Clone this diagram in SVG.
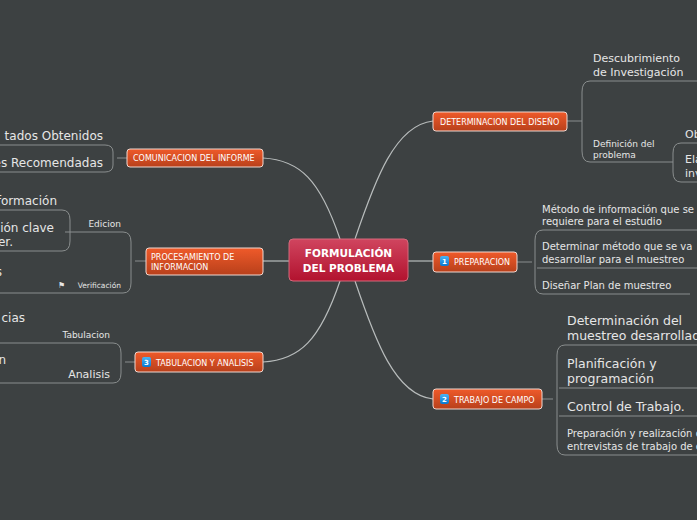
<svg xmlns="http://www.w3.org/2000/svg" width="697" height="520" viewBox="0 0 697 520">
<defs>
<linearGradient id="og" x1="0" y1="0" x2="0" y2="1"><stop offset="0" stop-color="#ef5a2a"/><stop offset="1" stop-color="#b8401b"/></linearGradient>
<linearGradient id="cg" x1="0" y1="0" x2="0" y2="1"><stop offset="0" stop-color="#d0455f"/><stop offset="1" stop-color="#b2122e"/></linearGradient>
<linearGradient id="bg" x1="0" y1="0" x2="0" y2="1"><stop offset="0" stop-color="#4ab4f5"/><stop offset="1" stop-color="#0a78d0"/></linearGradient>
<style>
.n{fill:url(#og);stroke:#f0d8d0;stroke-width:1}
.nt{font-family:"DejaVu Sans",sans-serif;font-size:8px;fill:#fff}
.t{font-family:"DejaVu Sans",sans-serif;fill:#e6e6e6}
.c{fill:none;stroke:#b8bcbc;stroke-width:1.2}
.l{fill:none;stroke:#8a8e8e;stroke-width:1}
.bd{fill:url(#bg)}
.bn{font-family:"DejaVu Sans",sans-serif;font-size:7px;fill:#fff;font-weight:bold}
</style>
</defs>
<rect width="697" height="520" fill="#3d4142"/>
<g id="connectors">
<path class="c" d="M355 239 C375 180 395 125 433 121"/>
<path class="c" d="M408 261 L433 261"/>
<path class="c" d="M355 281 C375 340 395 395 433 399"/>
<path class="c" d="M340 239 C320 180 300 160 263 158"/>
<path class="c" d="M289 261 L263 261"/>
<path class="c" d="M340 281 C320 340 300 360 263 362"/>
<path class="l" d="M567 121 L577 121 M590 81 L697 81 M590 81 Q582 81 582 92 L582 151 Q582 162 590 162 L660 162 M582 121 L577 121"/>
<path class="l" d="M660 162 L673 162 M681 143 Q673 143 673 153 L673 172 Q673 182 681 182 L697 182 M681 143 L697 143"/>
<path class="l" d="M517 262 L532 262 M543 230 Q535 230 535 240 L535 284 Q535 294 543 294 L690 294 M543 230 L697 230 M537 268 L697 268"/>
<path class="l" d="M542 399 L553 399 M565 345 Q557 345 557 355 L557 445 Q557 455 565 455 L697 455 M565 345 L697 345 M559 388 L697 388 M559 416 L697 416"/>
<path class="l" d="M127 158 L117 158 M0 145 L105 145 Q113 145 113 152 L113 165 Q113 172 105 172 L0 172"/>
<path class="l" d="M146 261 L135 261 M72 232 L123 232 Q131 232 131 242 L131 283 Q131 293 123 293 L0 293"/>
<path class="l" d="M72 232 L65 232 M0 210 L62 210 Q70 210 70 220 L70 241 Q70 251 62 251 L0 251"/>
<path class="l" d="M135 362 L125 362 M0 343 L113 343 Q121 343 121 353 L121 373 Q121 383 113 383 L0 383"/>
</g>
<g id="central"><rect x="289" y="239" width="119" height="42" rx="4" fill="url(#cg)" stroke="#d56a7c"/>
<text x="348.5" y="257" text-anchor="middle" font-family="DejaVu Sans,sans-serif" font-size="10.5" font-weight="bold" fill="#fff">FORMULACIÓN</text>
<text x="348.5" y="272" text-anchor="middle" font-family="DejaVu Sans,sans-serif" font-size="10.5" font-weight="bold" fill="#fff">DEL PROBLEMA</text></g>
<g id="diseno"><rect class="n" x="433" y="112" width="134" height="19" rx="3"/><text class="nt" x="440" y="124.5">DETERMINACION DEL DISEÑO</text></g>
<g id="preparacion"><rect class="n" x="433" y="252" width="84" height="20" rx="3"/><rect class="bd" x="440" y="256" width="9" height="10" rx="2"/><text class="bn" x="444.5" y="264" text-anchor="middle">1</text><text class="nt" x="454" y="265">PREPARACION</text></g>
<g id="campo"><rect class="n" x="433" y="389" width="109" height="20" rx="3"/><rect class="bd" x="440" y="394" width="9" height="10" rx="2"/><text class="bn" x="444.5" y="402" text-anchor="middle">2</text><text class="nt" x="454" y="403">TRABAJO DE CAMPO</text></g>
<g id="comunicacion"><rect class="n" x="127" y="149" width="136" height="18" rx="3"/><text class="nt" x="133" y="161">COMUNICACION DEL INFORME</text></g>
<g id="procesamiento"><rect class="n" x="146" y="248" width="117" height="27" rx="3"/><text class="nt" x="151" y="260">PROCESAMIENTO DE</text><text class="nt" x="151" y="270">INFORMACION</text></g>
<g id="tabulacion"><rect class="n" x="135" y="352" width="128" height="20" rx="3"/><rect class="bd" x="142" y="357" width="9" height="10" rx="2"/><text class="bn" x="146.5" y="365" text-anchor="middle">3</text><text class="nt" x="156" y="366">TABULACION Y ANALISIS</text></g>
<g id="labels">
<text class="t" font-size="11" x="593" y="62">Descubrimiento</text>
<text class="t" font-size="11" x="593" y="76">de Investigación</text>
<text class="t" font-size="9" x="593" y="147">Definición del</text>
<text class="t" font-size="9" x="593" y="158">problema</text>
<text class="t" font-size="11" x="685" y="138">Ob</text>
<text class="t" font-size="11" x="685" y="163">Ela</text>
<text class="t" font-size="11" x="685" y="177">inv</text>
<text class="t" font-size="10" x="542" y="213">Método de información que se</text>
<text class="t" font-size="10" x="542" y="225">requiere para el estudio</text>
<text class="t" font-size="10" x="542" y="250">Determinar método que se va</text>
<text class="t" font-size="10" x="542" y="263">desarrollar para el muestreo</text>
<text class="t" font-size="10" x="542" y="289">Diseñar Plan de muestreo</text>
<text class="t" font-size="12.5" x="567" y="325">Determinación del</text>
<text class="t" font-size="12.5" x="567" y="340">muestreo desarrollado</text>
<text class="t" font-size="12.5" x="567" y="368">Planificación y</text>
<text class="t" font-size="12.5" x="567" y="383">programación</text>
<text class="t" font-size="12.5" x="567" y="411">Control de Trabajo.</text>
<text class="t" font-size="10" x="567" y="437">Preparación y realización de</text>
<text class="t" font-size="10" x="567" y="450">entrevistas de trabajo de campo</text>
<text class="t" font-size="12" x="103" y="140" text-anchor="end">tados Obtenidos</text>
<text class="t" font-size="12" x="103" y="167" text-anchor="end">es Recomendadas</text>
<text class="t" font-size="12" x="57" y="205" text-anchor="end">formación</text>
<text class="t" font-size="12" x="54" y="232" text-anchor="end">ción clave</text>
<text class="t" font-size="12" x="13" y="246" text-anchor="end">er.</text>
<text class="t" font-size="12" x="2" y="276" text-anchor="end">s</text>
<text class="t" font-size="9" x="121" y="227" text-anchor="end">Edicion</text>
<text class="t" font-size="7.5" x="121" y="288" text-anchor="end">Verificación</text>
<text class="t" font-size="8" x="58" y="288" fill="#ddd">⚑</text>
<text class="t" font-size="12" x="25" y="322" text-anchor="end">cias</text>
<text class="t" font-size="9" x="110" y="338" text-anchor="end">Tabulacion</text>
<text class="t" font-size="12" x="6" y="364" text-anchor="end">n</text>
<text class="t" font-size="11" x="110" y="378" text-anchor="end">Analisis</text>
</g>
</svg>
